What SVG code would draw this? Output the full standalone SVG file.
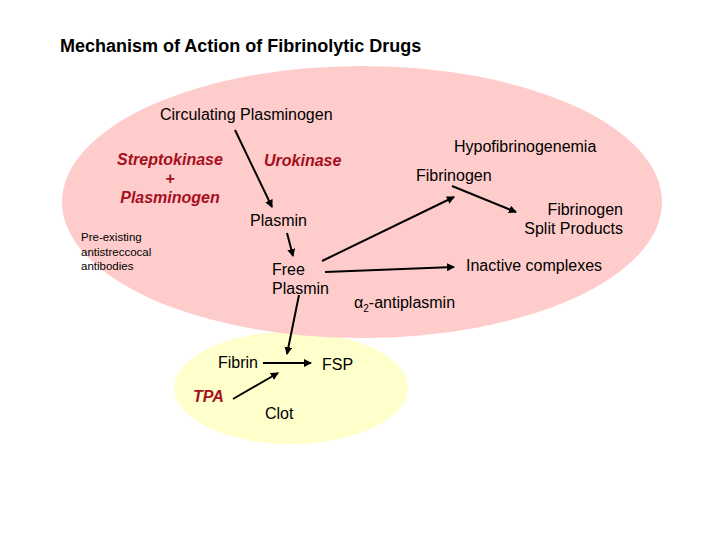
<svg xmlns="http://www.w3.org/2000/svg" width="720" height="540" viewBox="0 0 720 540">
<style>
text{font-family:"Liberation Sans",Arial,sans-serif;font-size:16px;fill:#000}
.red{fill:#a50f1e;font-weight:bold;font-style:italic}
.sm{font-size:11.5px}
line{stroke:#000;stroke-width:2;marker-end:url(#ah)}
</style>
<defs><marker id="ah" markerWidth="8" markerHeight="8" refX="7" refY="4" orient="auto" markerUnits="userSpaceOnUse"><path d="M0,0 L8,4 L0,8 Z" fill="#000"/></marker></defs>
<rect width="720" height="540" fill="#fff"/>
<g id="clot-region"><ellipse cx="291" cy="388" rx="117" ry="56" fill="#ffffcc"/></g>
<g id="blood-region"><ellipse cx="362" cy="202" rx="300" ry="136" fill="#ffcccc"/></g>
<text x="60" y="52" style="font-weight:bold;font-size:18px">Mechanism of Action of Fibrinolytic Drugs</text>
<g id="circ"><text x="160" y="120">Circulating Plasminogen</text></g>
<g id="strep"><text class="red" text-anchor="middle" x="170" y="165">Streptokinase</text><text class="red" text-anchor="middle" x="170" y="184">+</text><text class="red" text-anchor="middle" x="170" y="203">Plasminogen</text></g>
<g id="uro"><text class="red" x="264" y="166">Urokinase</text></g>
<g id="pre"><text class="sm" x="81" y="241">Pre-existing</text><text class="sm" x="81" y="256">antistreccocal</text><text class="sm" x="81" y="270">antibodies</text></g>
<g id="hypo"><text x="454" y="152">Hypofibrinogenemia</text></g>
<g id="fibrinogen"><text x="416" y="181">Fibrinogen</text></g>
<g id="fsp-top"><text x="623" y="215" text-anchor="end">Fibrinogen</text><text x="623" y="234" text-anchor="end">Split Products</text></g>
<g id="plasmin"><text x="250" y="226">Plasmin</text></g>
<g id="free"><text x="272" y="275">Free</text><text x="272" y="294">Plasmin</text></g>
<g id="inactive"><text x="466" y="271">Inactive complexes</text></g>
<g id="a2"><text x="354" y="308">α<tspan font-size="10" dy="4">2</tspan><tspan dy="-4">-antiplasmin</tspan></text></g>
<g id="fibrin"><text x="218" y="368">Fibrin</text></g>
<g id="fsp"><text x="322" y="370">FSP</text></g>
<g id="tpa"><text class="red" x="193" y="402">TPA</text></g>
<g id="clot"><text x="265" y="419">Clot</text></g>
<g id="connectors">
<line x1="235" y1="130" x2="272" y2="207"/>
<line x1="287" y1="233" x2="293" y2="256"/>
<line x1="322" y1="261" x2="454" y2="197"/>
<line x1="325" y1="272" x2="454" y2="267"/>
<line x1="452" y1="186" x2="516" y2="212"/>
<line x1="299" y1="295" x2="287" y2="354"/>
<line x1="263" y1="363" x2="311" y2="363"/>
<line x1="233" y1="399" x2="278" y2="373"/>
</g>
</svg>
